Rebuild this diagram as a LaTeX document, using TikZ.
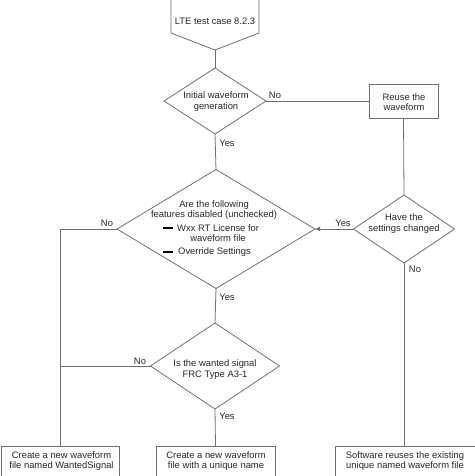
\documentclass[tikz,border=0pt]{standalone}
\usepackage{fontspec}
\setmainfont{Liberation Sans}
\usetikzlibrary{shapes.geometric,arrows.meta}
\definecolor{linec}{RGB}{112,112,112}
\definecolor{textc}{RGB}{40,40,40}
\begin{document}
\begin{tikzpicture}[x=1pt,y=-1pt,
  every node/.style={font=\fontsize{9.4}{10.6}\selectfont, text=textc},
  conn/.style={draw=linec, line width=0.8pt},
  dmd/.style={diamond, draw=linec, line width=0.8pt, inner sep=0pt, outer sep=0pt},
  box/.style={rectangle, draw=linec, line width=0.8pt, inner sep=0pt, outer sep=0pt},
  txt/.style={align=center, inner sep=0pt},
  lbl/.style={inner sep=0pt}]
\fill[white] (0,0) rectangle (474,476);
\useasboundingbox (0,0) rectangle (474,476);
% off-page connector
\draw[conn] (171,-5) -- (171,33) -- (215,50) -- (259,33) -- (259,-5);
\coordinate (top) at (215,50);
\node[txt] (toptext) at (215,21) {LTE test case 8.2.3};
% diamonds
\node[dmd, minimum width=102, minimum height=66] (d1) at (215,101) {};
\node[txt] (d1t) at (216,101.5) {Initial waveform\\generation};
\node[dmd, minimum width=198, minimum height=119] (d2) at (216,229) {};
\node[txt] (d2t) at (214,210) {Are the following\\features disabled (unchecked)};
\node[lbl, anchor=west] (b1) at (177,228) {Wxx RT License for};
\node[lbl] (b1b) at (218,238.5) {waveform file};
\node[lbl, anchor=west] (b2) at (178,252) {Override Settings};
\draw[line width=2pt, black] (163,227.5) -- (173,227.5);
\draw[line width=2pt, black] (163,251.5) -- (173,251.5);
\node[dmd, minimum width=129, minimum height=86] (d3) at (215,366) {};
\node[txt] (d3t) at (215,369.5) {Is the wanted signal\\FRC Type A3-1};
\node[dmd, minimum width=101, minimum height=68] (d4) at (404,229) {};
\node[txt] (d4t) at (404,223.5) {Have the\\settings changed};
% boxes
\node[box, minimum width=69, minimum height=34] (reuse) at (403.5,101) {};
\node[txt] (reuset) at (404,102) {Reuse the\\waveform};
\node[box, minimum width=118, minimum height=30.5] (box1) at (60,461.25) {};
\node[txt] (box1t) at (61.5,461) {Create a new waveform\\file named WantedSignal};
\node[box, minimum width=119, minimum height=30.5] (box2) at (215.5,461.25) {};
\node[txt] (box2t) at (216,461) {Create a new waveform\\file with a unique name};
\node[box, minimum width=144, minimum height=30.5] (box3) at (407,461.25) {};
\node[txt] (box3t) at (405,461) {Software reuses the existing\\unique named waveform file};
% connectors
\draw[conn] (top) -- (d1.north);
\draw[conn] (d1.east) -- (reuse.west);
\draw[conn] (reuse.south) -- (d4.north);
\draw[conn, -{Triangle[length=5pt,width=4pt]}] (d4.west) -- (d2.east);
\draw[conn] (d4.south) -- (d4.south |- box3.north);
\draw[conn] (d1.south) -- (d2.north);
\draw[conn] (d2.south) -- (d3.north);
\draw[conn] (d3.south) -- (box2.north);
\draw[conn] (d2.west) -| (box1.north);
\draw[conn] (d3.west) -- (d3.west -| box1.north);
% labels
\node[lbl] (l1) at (275,95) {No};
\node[lbl] (l2) at (227,143) {Yes};
\node[lbl] (l3) at (107,223) {No};
\node[lbl] (l4) at (343,223) {Yes};
\node[lbl] (l5) at (415,269) {No};
\node[lbl] (l6) at (227,297) {Yes};
\node[lbl] (l7) at (140,361) {No};
\node[lbl] (l8) at (227,416) {Yes};
\end{tikzpicture}
\end{document}
